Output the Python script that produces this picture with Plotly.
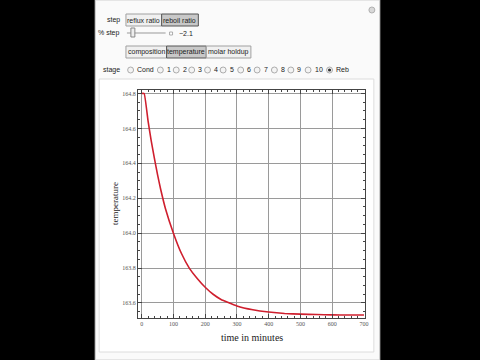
import plotly.graph_objects as go

# data
time_min = [0, 8, 20, 30, 40, 50, 60, 75, 100, 125, 150, 175, 200, 225, 250,
            300, 350, 400, 450, 500, 550, 600, 650, 700]
temperature = [164.80, 164.80, 164.645, 164.53, 164.43, 164.335, 164.25, 164.14,
               164.00, 163.885, 163.80, 163.74, 163.69, 163.65, 163.62,
               163.583, 163.561, 163.548, 163.540, 163.536, 163.534, 163.532,
               163.531, 163.531]
x_ticks = [0, 100, 200, 300, 400, 500, 600, 700]
y_ticks = [163.6, 163.8, 164.0, 164.2, 164.4, 164.6, 164.8]
step_buttons = ["reflux ratio", "reboil ratio"]
view_buttons = ["composition", "temperature", "molar holdup"]
stage_options = ["Cond", "1", "2", "3", "4", "5", "6", "7", "8", "9", "10", "Reb"]
step_value = "\u22122.1"

W, H = 480, 360
def px(x):
    return x / W
def py(y):
    return 1 - y / H

fig = go.Figure()
fig.add_trace(go.Scatter(x=time_min, y=temperature, mode="lines",
                         line=dict(color="#cf1f2e", width=1.6, shape="spline", smoothing=0.3),
                         hoverinfo="skip", showlegend=False))

shapes = []
annotations = []
# outer panel
shapes.append(dict(type="rect", xref="paper", yref="paper", x0=px(96), x1=px(383), y0=py(360), y1=py(0),
                   fillcolor="#fafafa", line=dict(color="#d0d0d0", width=1), layer="below"))
# inner content area
shapes.append(dict(type="rect", xref="paper", yref="paper", x0=px(100), x1=px(377), y0=py(352), y1=py(79),
                   fillcolor="white", line=dict(color="#dcdcdc", width=1), layer="below"))
# gear icon
shapes.append(dict(type="circle", xref="paper", yref="paper", x0=px(372), x1=px(378), y0=py(13), y1=py(7),
                   fillcolor="#d8d8d8", line=dict(color="#b0b0b0", width=1)))

ui_font = dict(family="Liberation Sans", size=7, color="#222")
def label(text, x, y, anchor="right"):
    annotations.append(dict(text=text, xref="paper", yref="paper", x=px(x), y=py(y),
                            xanchor=anchor, yanchor="middle", showarrow=False, font=ui_font))

def buttons(names, edges, y0, y1, selected):
    for i, n in enumerate(names):
        sel = (i == selected)
        shapes.append(dict(type="rect", xref="paper", yref="paper",
                           x0=px(edges[i]), x1=px(edges[i + 1]), y0=py(y1), y1=py(y0),
                           fillcolor="#c8c8c8" if sel else "#f0f0f0",
                           line=dict(color="#555" if sel else "#a0a0a0", width=1)))
        annotations.append(dict(text=n, xref="paper", yref="paper",
                                x=px((edges[i] + edges[i + 1]) / 2), y=py((y0 + y1) / 2),
                                xanchor="center", yanchor="middle", showarrow=False, font=ui_font))

label("step", 123, 20)
buttons(step_buttons, [127, 163, 200], 14, 26, 1)

label("% step", 123, 33)
shapes.append(dict(type="line", xref="paper", yref="paper", x0=px(128), x1=px(167), y0=py(33), y1=py(33),
                   line=dict(color="#999", width=1)))
shapes.append(dict(type="rect", xref="paper", yref="paper", x0=px(132), x1=px(136), y0=py(37), y1=py(28),
                   fillcolor="#eee", line=dict(color="#888", width=1)))
shapes.append(dict(type="rect", xref="paper", yref="paper", x0=px(171), x1=px(174), y0=py(35), y1=py(32),
                   fillcolor="white", line=dict(color="#999", width=0.8)))
label(step_value, 178, 33, anchor="left")

buttons(view_buttons, [127, 168, 208, 253], 46, 58, 1)

label("stage", 123, 70)
radio_x = [131.7, 161.7, 177.7, 193.3, 209.3, 225.0, 242.7, 259.3, 276.7, 293.3, 310.7, 332.3]
for i, (name, rx) in enumerate(zip(stage_options, radio_x)):
    shapes.append(dict(type="circle", xref="paper", yref="paper", x0=px(rx - 3), x1=px(rx + 3),
                       y0=py(73), y1=py(67), fillcolor="#f4f4f4", line=dict(color="#999", width=0.8)))
    if i == len(stage_options) - 1:
        shapes.append(dict(type="circle", xref="paper", yref="paper", x0=px(rx - 1.6), x1=px(rx + 1.6),
                           y0=py(71.6), y1=py(68.4), fillcolor="#333", line=dict(width=0)))
    label(name, rx + 4.5, 70, anchor="left")

# axis titles
annotations.append(dict(text="temperature", xref="paper", yref="paper", x=px(116), y=py(204),
                        xanchor="center", yanchor="middle", textangle=-90, showarrow=False,
                        font=dict(family="Liberation Serif", size=9, color="#222")))
annotations.append(dict(text="time in minutes", xref="paper", yref="paper", x=px(254), y=py(337),
                        xanchor="center", yanchor="middle", showarrow=False,
                        font=dict(family="Liberation Serif", size=10, color="#222")))

axis_common = dict(showline=True, linecolor="#444", linewidth=1, mirror="allticks",
                   ticks="inside", ticklen=4, tickcolor="#444", tickwidth=1,
                   showgrid=True, gridcolor="#9a9a9a", gridwidth=0.8, zeroline=False,
                   tickfont=dict(family="Liberation Serif", size=6, color="#555"))

fig.update_layout(
    width=W, height=H, margin=dict(l=0, r=0, t=0, b=0),
    paper_bgcolor="black", plot_bgcolor="white",
    xaxis=dict(domain=[px(139), px(368)], range=[-12, 703], tickvals=x_ticks,
               minor=dict(dtick=20, ticks="inside", ticklen=2, tickcolor="#444", showgrid=False),
               **axis_common),
    yaxis=dict(domain=[py(318), py(90)], range=[163.514, 164.82], tickvals=y_ticks,
               tickformat=".1f",
               minor=dict(dtick=0.05, ticks="inside", ticklen=2, tickcolor="#444", showgrid=False),
               **axis_common),
    shapes=shapes, annotations=annotations, showlegend=False,
)

fig.write_html("out.html")
